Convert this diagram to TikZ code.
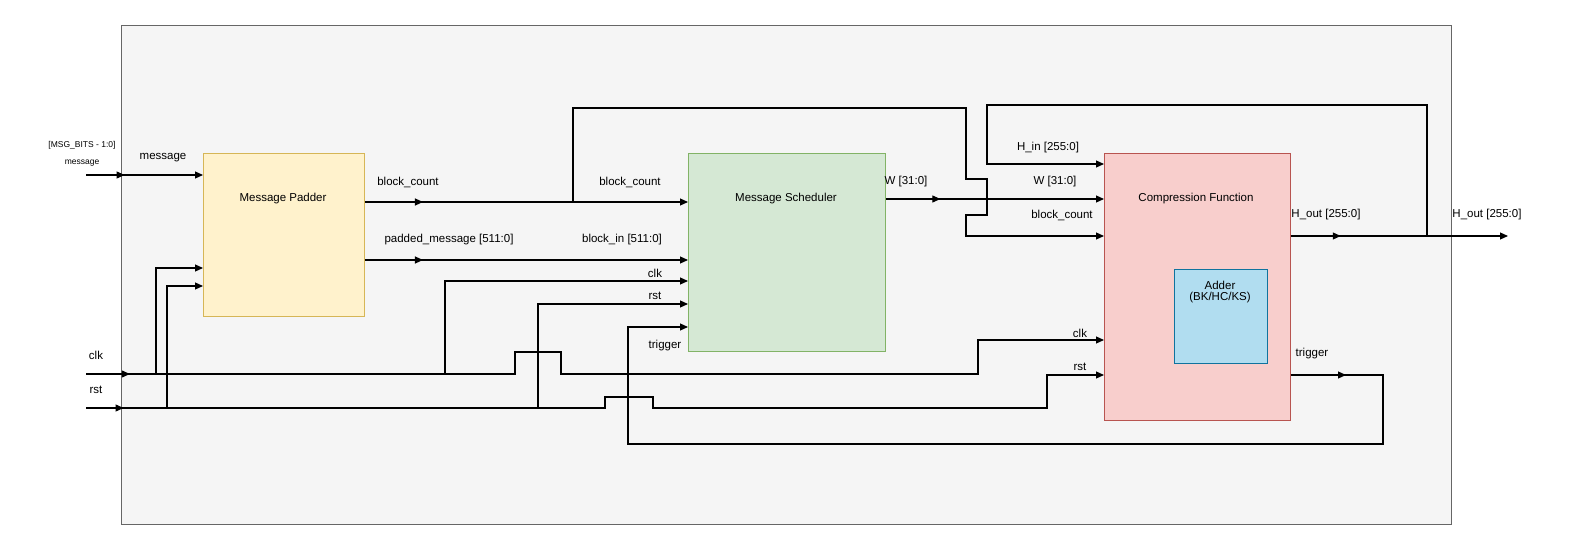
\documentclass[tikz,border=0pt]{standalone}
\usepackage{fontspec}
\setmainfont{Liberation Sans}
\usetikzlibrary{arrows.meta,decorations.markings}
\definecolor{bgf}{HTML}{F5F5F5}\definecolor{bgd}{HTML}{666666}
\definecolor{padf}{HTML}{FFF2CC}\definecolor{padd}{HTML}{D6B656}
\definecolor{schf}{HTML}{D5E8D4}\definecolor{schd}{HTML}{82B366}
\definecolor{cmpf}{HTML}{F8CECC}\definecolor{cmpd}{HTML}{B85450}
\definecolor{addf}{HTML}{B1DDF0}\definecolor{addd}{HTML}{10739E}
\begin{document}
\begin{tikzpicture}[x=1pt,y=-1pt,
  font=\fontsize{11.5}{13}\selectfont,
  blk/.style={draw,line width=0.8pt,inner sep=0pt,anchor=north west},
  w/.style={line width=1.1pt,-{Triangle[length=8pt,width=7pt]}},
  mid/.style={postaction={decorate},decoration={markings,mark=at position #1 with {\arrow{Triangle[length=8pt,width=7pt]}}}},
  lb/.style={inner sep=1pt}]
\useasboundingbox (0,0) rectangle (1593,545);
\node[blk,draw=bgd,fill=bgf,minimum width=1330pt,minimum height=499pt] (bg) at (121,25) {};
\node[blk,draw=padd,fill=padf,minimum width=161pt,minimum height=163pt] (pad) at (203,153) {};
\node at (283,199) {Message Padder};
\node[blk,draw=schd,fill=schf,minimum width=197pt,minimum height=198pt] (sch) at (688,153) {};
\node at (786,199) {Message Scheduler};
\node[blk,draw=cmpd,fill=cmpf,minimum width=186pt,minimum height=267pt] (cmp) at (1104,153) {};
\node at (1196,199) {Compression Function};
\node[blk,draw=addd,fill=addf,minimum width=93pt,minimum height=94pt] (add) at (1174,269) {};
\node[align=center,font=\fontsize{11.5}{11}\selectfont] at (1220,292) {Adder\\(BK/HC/KS)};
% coordinates
\coordinate (msgin) at (86,175);
\coordinate (clkin) at (86,374);
\coordinate (rstin) at (86,408);
\coordinate (hout) at (1508,236);
\coordinate (trg) at (1346,375);
% message
\draw[w,mid=0.33] (msgin) -- (pad.west |- msgin);
\node[font=\fontsize{8.5}{9}\selectfont] at (82,145) {[MSG\_BITS - 1:0]};
\node[font=\fontsize{8.5}{9}\selectfont] at (82,163) {message};
\node at (163,158) {message};
% padder outputs
\draw[w,mid=0.18] (pad.east |- 0,202) -- (sch.west |- 0,202);
\node at (408,182) {block\_count};
\node at (630,182) {block\_count};
\draw[w,mid=0.18] (pad.east |- 0,260) -- (sch.west |- 0,260);
\node at (449,240) {padded\_message [511:0]};
\node at (622,240) {block\_in [511:0]};
% block_count to compression
\draw[w] (573,202) -- (573,108) -- (966,108) -- (966,179) -- (987,179) -- (987,215) -- (966,215) -- (966,236) -- (cmp.west |- 0,236);
\node at (1062,215) {block\_count};
% W
\draw[w,mid=0.25] (sch.east |- 0,199) -- (cmp.west |- 0,199);
\node at (906,182) {W [31:0]};
\node at (1055,182) {W [31:0]};
% H_out and H_in loop
\draw[w,mid=0.23] (cmp.east |- hout) -- (hout);
\node at (1326,215) {H\_out [255:0]};
\node at (1487,215) {H\_out [255:0]};
\draw[w] (1427,236) -- (1427,105) -- (987,105) -- (987,164) -- (cmp.west |- 0,164);
\node at (1048,148) {H\_in [255:0]};
% clk
\draw[w,mid=0.04] (clkin) -- (515,374) -- (515,352) -- (561,352) -- (561,374) -- (978,374) -- (978,340) -- (cmp.west |- 0,340);
\node at (96,355) {clk};
\node at (1080,333) {clk};
\draw[w] (156,374) -- (156,268) -- (pad.west |- 0,268);
\draw[w] (445,374) -- (445,281) -- (sch.west |- 0,281);
\node at (655,273) {clk};
% rst
\draw[w,mid=0.035] (rstin) -- (605,408) -- (605,397) -- (653,397) -- (653,408) -- (1047,408) -- (1047,375) -- (cmp.west |- 0,375);
\node at (96,390) {rst};
\node at (1080,367) {rst};
\draw[w] (167,408) -- (167,286) -- (pad.west |- 0,286);
\draw[w] (538,408) -- (538,304) -- (sch.west |- 0,304);
\node at (655,296) {rst};
% trigger
\draw[w] (cmp.east |- trg) -- (trg);
\draw[w] (1340,375) -- (1383,375) -- (1383,444) -- (628,444) -- (628,327) -- (sch.west |- 0,327);
\node at (665,346) {trigger};
\node at (1312,354) {trigger};
\end{tikzpicture}
\end{document}
